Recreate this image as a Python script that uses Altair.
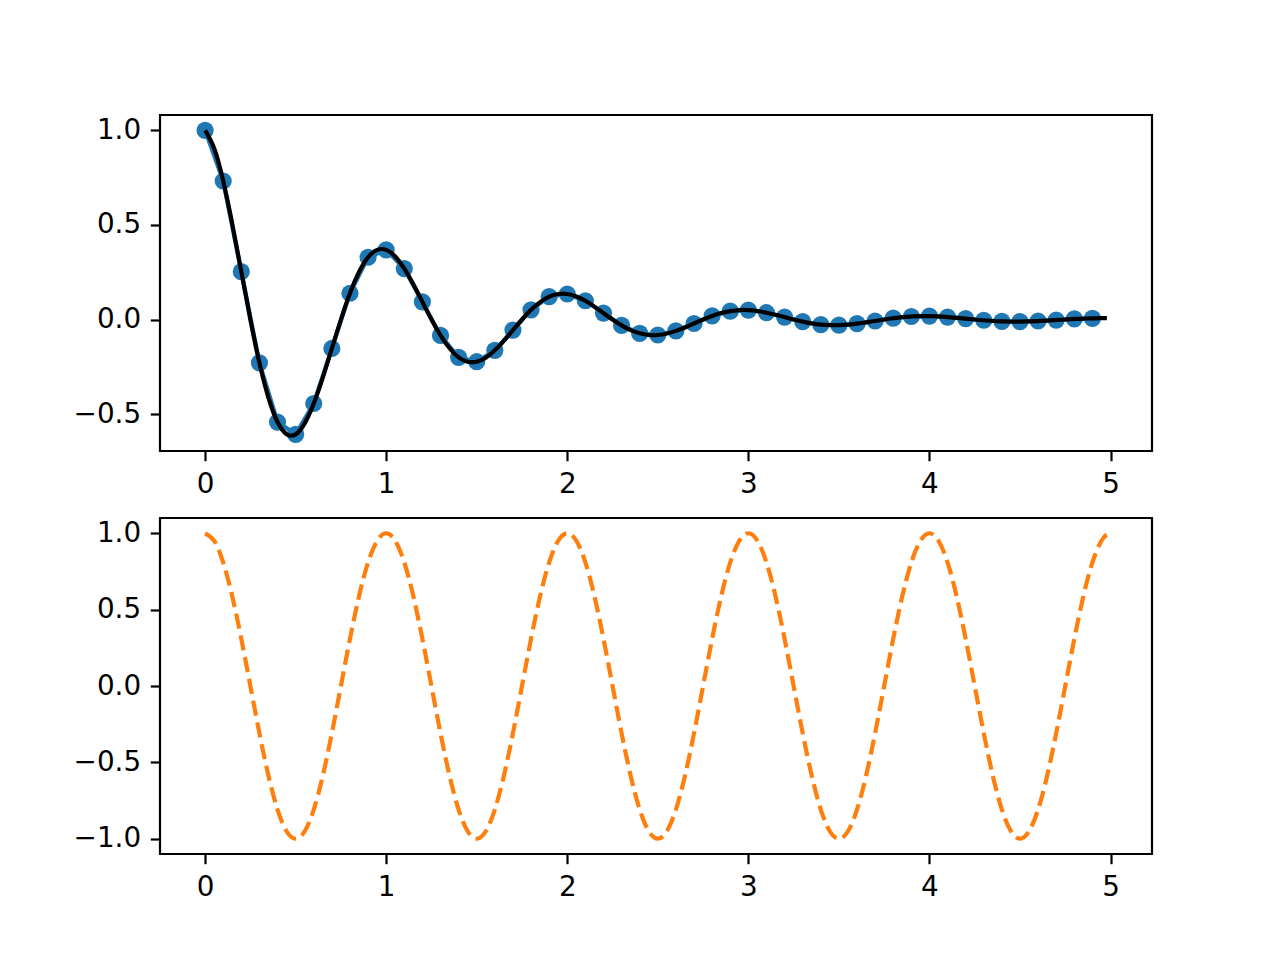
import altair as alt
import pandas as pd

C0 = "#1f77b4"
C1 = "#ff7f0e"

# sampled points (top panel markers)
t1 = [0.0, 0.1, 0.2, 0.3, 0.4, 0.5, 0.6, 0.7, 0.8, 0.9,
      1.0, 1.1, 1.2, 1.3, 1.4, 1.5, 1.6, 1.7, 1.8, 1.9,
      2.0, 2.1, 2.2, 2.3, 2.4, 2.5, 2.6, 2.7, 2.8, 2.9,
      3.0, 3.1, 3.2, 3.3, 3.4, 3.5, 3.6, 3.7, 3.8, 3.9,
      4.0, 4.1, 4.2, 4.3, 4.4, 4.5, 4.6, 4.7, 4.8, 4.9]
y1 = [1.000, 0.732, 0.253, -0.229, -0.542, -0.607, -0.444, -0.153, 0.139, 0.329,
      0.368, 0.269, 0.093, -0.084, -0.200, -0.223, -0.163, -0.056, 0.051, 0.121,
      0.135, 0.099, 0.034, -0.031, -0.073, -0.082, -0.060, -0.021, 0.019, 0.044,
      0.050, 0.036, 0.013, -0.011, -0.027, -0.030, -0.022, -0.008, 0.007, 0.016,
      0.018, 0.013, 0.005, -0.004, -0.010, -0.011, -0.008, -0.003, 0.003, 0.006]

# dense curve positions
t2 = [0.00, 0.05, 0.10, 0.15, 0.20, 0.25, 0.30, 0.35, 0.40, 0.45,
      0.50, 0.55, 0.60, 0.65, 0.70, 0.75, 0.80, 0.85, 0.90, 0.95,
      1.00, 1.05, 1.10, 1.15, 1.20, 1.25, 1.30, 1.35, 1.40, 1.45,
      1.50, 1.55, 1.60, 1.65, 1.70, 1.75, 1.80, 1.85, 1.90, 1.95,
      2.00, 2.05, 2.10, 2.15, 2.20, 2.25, 2.30, 2.35, 2.40, 2.45,
      2.50, 2.55, 2.60, 2.65, 2.70, 2.75, 2.80, 2.85, 2.90, 2.95,
      3.00, 3.05, 3.10, 3.15, 3.20, 3.25, 3.30, 3.35, 3.40, 3.45,
      3.50, 3.55, 3.60, 3.65, 3.70, 3.75, 3.80, 3.85, 3.90, 3.95,
      4.00, 4.05, 4.10, 4.15, 4.20, 4.25, 4.30, 4.35, 4.40, 4.45,
      4.50, 4.55, 4.60, 4.65, 4.70, 4.75, 4.80, 4.85, 4.90, 4.95,
      4.98]

# damped curve (black line, top panel)
y2 = [1.000, 0.905, 0.732, 0.506, 0.253, 0.000, -0.229, -0.414, -0.542, -0.606,
      -0.607, -0.549, -0.444, -0.307, -0.153, 0.000, 0.139, 0.251, 0.329, 0.368,
      0.368, 0.333, 0.269, 0.186, 0.093, 0.000, -0.084, -0.152, -0.200, -0.223,
      -0.223, -0.202, -0.163, -0.113, -0.056, 0.000, 0.051, 0.092, 0.121, 0.135,
      0.135, 0.122, 0.099, 0.068, 0.034, 0.000, -0.031, -0.056, -0.073, -0.082,
      -0.082, -0.074, -0.060, -0.042, -0.021, 0.000, 0.019, 0.034, 0.044, 0.050,
      0.050, 0.045, 0.036, 0.025, 0.013, 0.000, -0.011, -0.021, -0.027, -0.030,
      -0.030, -0.027, -0.022, -0.015, -0.008, 0.000, 0.007, 0.013, 0.016, 0.018,
      0.018, 0.017, 0.013, 0.009, 0.005, 0.000, -0.004, -0.008, -0.010, -0.011,
      -0.011, -0.010, -0.008, -0.006, -0.003, 0.000, 0.003, 0.005, 0.006, 0.007,
      0.007]

# oscillation (orange dashed, bottom panel)
y3 = [1.000, 0.951, 0.809, 0.588, 0.309, 0.000, -0.309, -0.588, -0.809, -0.951,
      -1.000, -0.951, -0.809, -0.588, -0.309, 0.000, 0.309, 0.588, 0.809, 0.951,
      1.000, 0.951, 0.809, 0.588, 0.309, 0.000, -0.309, -0.588, -0.809, -0.951,
      -1.000, -0.951, -0.809, -0.588, -0.309, 0.000, 0.309, 0.588, 0.809, 0.951,
      1.000, 0.951, 0.809, 0.588, 0.309, 0.000, -0.309, -0.588, -0.809, -0.951,
      -1.000, -0.951, -0.809, -0.588, -0.309, 0.000, 0.309, 0.588, 0.809, 0.951,
      1.000, 0.951, 0.809, 0.588, 0.309, 0.000, -0.309, -0.588, -0.809, -0.951,
      -1.000, -0.951, -0.809, -0.588, -0.309, 0.000, 0.309, 0.588, 0.809, 0.951,
      1.000, 0.951, 0.809, 0.588, 0.309, 0.000, -0.309, -0.588, -0.809, -0.951,
      -1.000, -0.951, -0.809, -0.588, -0.309, 0.000, 0.309, 0.588, 0.809, 0.951,
      0.992]

x_ticks = [0, 1, 2, 3, 4, 5]
y_ticks_top = [-0.5, 0.0, 0.5, 1.0]
y_ticks_bottom = [-1.0, -0.5, 0.0, 0.5, 1.0]

pts = pd.DataFrame({"t": t1, "y": y1})
curve = pd.DataFrame({"t": t2, "y": y2})
osc = pd.DataFrame({"t": t2, "y": y3})

xenc = alt.X("t:Q", scale=alt.Scale(domain=[-0.249, 5.229], nice=False, zero=False),
             axis=alt.Axis(values=x_ticks, format="d", title=None))


def yenc(domain, ticks):
    return alt.Y("y:Q", scale=alt.Scale(domain=domain, nice=False, zero=False),
                 axis=alt.Axis(values=ticks, format=".1f", title=None))


ytop = yenc([-0.695, 1.081], y_ticks_top)
ybot = yenc([-1.1, 1.1], y_ticks_bottom)

blue_line = alt.Chart(pts).mark_line(color=C0, strokeWidth=4.2).encode(x=xenc, y=ytop)
dots = alt.Chart(pts).mark_circle(color=C0, size=295, opacity=1).encode(x=xenc, y=ytop)
black = alt.Chart(curve).mark_line(color="black", strokeWidth=4.2, interpolate="natural").encode(x=xenc, y=ytop)

top = alt.layer(blue_line, dots, black).properties(width=992, height=336)

bottom = alt.Chart(osc).mark_line(color=C1, strokeWidth=4.2, strokeDash=[15.4, 6.7],
                                  interpolate="natural").encode(x=xenc, y=ybot).properties(width=992, height=336)

chart = alt.vconcat(top, bottom, spacing=67, bounds="flush").properties(
    padding={"left": 64, "top": 105, "right": 0, "bottom": 0}
).configure_view(
    stroke="black", strokeWidth=2.2
).configure_axis(
    domain=False, grid=False, tickSize=9.7, tickWidth=2.2, tickColor="black",
    labelFont="DejaVu Sans", labelFontSize=27.8, labelColor="black", labelPadding=9.7
)

chart.save("out.html", embed_options={"renderer": "svg", "actions": False})
